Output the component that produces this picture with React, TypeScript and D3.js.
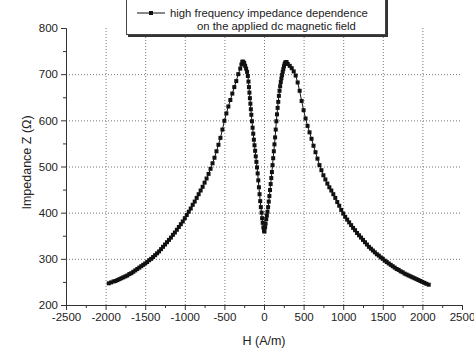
import React, { useRef, useEffect } from 'react'
import * as d3 from 'd3'

// H (A/m) and Z (ohm), in sweep order
const fieldH = [
  -1960, -1930, -1900, -1875, -1850, -1825, -1800, -1775, -1750, -1725,
  -1700, -1675, -1650, -1625, -1600, -1575, -1550, -1525, -1500, -1475,
  -1450, -1425, -1400, -1375, -1350, -1325, -1300, -1275, -1250, -1225,
  -1200, -1175, -1150, -1125, -1100, -1075, -1050, -1025, -1000, -975,
  -950, -925, -900, -875, -850, -825, -800, -775, -750,
  -725, -700, -675, -650, -625, -600, -575, -550, -525, -500,
  -475, -450, -425, -400, -375, -350, -325, -300, -285, -274,
  -262, -250, -238, -226, -214, -204, -196, -190, -184, -178,
  -172, -166, -160, -152, -144, -136, -128, -120, -112, -104,
  -96, -88, -80, -72, -64, -56, -48, -40, -30, -24,
  -16, -8, 0, 6,
  14, 20, 28, 36, 44, 52, 60, 68, 76, 84,
  92, 100, 108, 116, 124, 132, 140, 148, 156, 164,
  172, 180, 188, 196, 204, 212, 220, 228, 236, 244,
  252, 260, 268, 276,
  286, 300, 325, 350, 375, 400, 425, 450, 475, 500,
  525, 550, 575, 600, 625, 650, 675, 700, 725, 750,
  775, 800, 825, 850, 875, 900, 925, 950, 975, 1000,
  1025, 1050, 1075, 1100, 1125, 1150, 1175, 1200, 1225, 1250,
  1275, 1300, 1325, 1350, 1375, 1400, 1425, 1450, 1475, 1500,
  1525, 1550, 1575, 1600, 1625, 1650, 1675, 1700, 1725, 1750,
  1775, 1800, 1825, 1850, 1875, 1900, 1925, 1950, 1975, 2000,
  2025, 2050, 2080,
]

const impedanceZ = [
  247, 249, 251, 252, 254, 256, 258, 260, 262, 264,
  267, 269, 272, 275, 278, 281, 284, 287, 290, 293,
  297, 300, 304, 308, 312, 316, 321, 326, 331, 336,
  341, 346, 352, 357, 363, 369, 375, 381, 388, 395,
  402, 409, 417, 424, 432, 440, 448, 456, 465,
  474, 484, 495, 507, 519, 533, 547, 562, 580, 599,
  615, 630, 644, 658, 672, 685, 700, 712, 721, 727,
  727, 724, 718, 712, 705, 696, 684, 672, 660, 648,
  636, 624, 612, 598, 584, 571, 558, 546, 534, 522,
  510, 498, 485, 470, 455, 440, 425, 412, 400, 388,
  378, 368, 361, 359,
  368, 376, 386, 394, 402, 412, 424, 436, 449, 462,
  475, 488, 503, 518, 533, 548, 563, 580, 598, 613,
  627, 640, 653, 664, 674, 683, 691, 698, 705, 711,
  717, 722, 725, 726,
  726, 722, 718, 713, 706, 697, 682, 664, 642, 622,
  604, 588, 574, 560, 545, 531, 517, 503, 492, 481,
  472, 463, 455, 448, 440, 432, 423, 415, 406, 398,
  391, 385, 379, 373, 367, 362, 356, 351, 346, 341,
  336, 331, 326, 322, 318, 314, 310, 307, 303, 300,
  296, 293, 290, 287, 284, 281, 278, 276, 273, 271,
  268, 266, 264, 262, 260, 258, 256, 254, 252, 250,
  248, 246, 244,
]

const xTicks = [-2500, -2000, -1500, -1000, -500, 0, 500, 1000, 1500, 2000, 2500]
const xMinorTicks = [-2250, -1750, -1250, -750, -250, 250, 750, 1250, 1750, 2250]
const yTicks = [200, 300, 400, 500, 600, 700, 800]
const yMinorTicks = [250, 350, 450, 550, 650, 750]
const legendLines = ['high frequency impedance dependence', 'on the applied dc magnetic field']

const font = '"Liberation Sans", Arial, sans-serif'

export default function App() {
  const svgRef = useRef<SVGSVGElement>(null)

  useEffect(() => {
    const svg = d3.select(svgRef.current)
    svg.selectAll('*').remove()

    const x = d3.scaleLinear().domain([-2500, 2500]).range([66, 462])
    const y = d3.scaleLinear().domain([200, 800]).range([305, 28])

    // dotted grid
    const grid = svg.append('g')
      .attr('stroke', '#777')
      .attr('stroke-width', 1)
      .attr('stroke-dasharray', '1,2')
    grid.selectAll('.vgrid')
      .data(xTicks.slice(1, -1))
      .join('line')
      .attr('x1', d => x(d) + 0.5).attr('x2', d => x(d) + 0.5)
      .attr('y1', y(800)).attr('y2', y(200))
    grid.selectAll('.hgrid')
      .data(yTicks.slice(1, -1))
      .join('line')
      .attr('y1', d => y(d) + 0.5).attr('y2', d => y(d) + 0.5)
      .attr('x1', x(-2500)).attr('x2', x(2500))

    // axes
    const plain = (d: d3.NumberValue) => String(d)
    const xAxis = d3.axisBottom(x).tickValues(xTicks).tickSize(5).tickPadding(3).tickFormat(plain)
    const xMinor = d3.axisBottom(x).tickValues(xMinorTicks).tickSize(3).tickFormat(() => '')
    const yAxis = d3.axisLeft(y).tickValues(yTicks).tickSize(5).tickPadding(3).tickFormat(plain)
    const yMinor = d3.axisLeft(y).tickValues(yMinorTicks).tickSize(3).tickFormat(() => '')

    const gx = svg.append('g').attr('transform', `translate(0,${y(200)})`).call(xAxis)
    svg.append('g').attr('transform', `translate(0,${y(200)})`).call(xMinor).select('.domain').remove()
    const gy = svg.append('g').attr('transform', `translate(${x(-2500)},0)`).call(yAxis)
    svg.append('g').attr('transform', `translate(${x(-2500)},0)`).call(yMinor).select('.domain').remove()

    svg.selectAll('.domain').attr('stroke', '#333')
    svg.selectAll('.tick line').attr('stroke', '#333')
    for (const g of [gx, gy]) {
      g.selectAll('text')
        .attr('font-family', font)
        .attr('font-size', 11.5)
        .attr('fill', '#222')
    }

    // axis titles
    svg.append('text')
      .attr('x', x(0))
      .attr('y', 345)
      .attr('text-anchor', 'middle')
      .attr('font-family', font)
      .attr('font-size', 12.5)
      .attr('fill', '#222')
      .text('H (A/m)')
    svg.append('text')
      .attr('transform', `translate(31,${(y(200) + y(800)) / 2 - 4}) rotate(-90)`)
      .attr('text-anchor', 'middle')
      .attr('font-family', font)
      .attr('font-size', 12.5)
      .attr('fill', '#222')
      .text('Impedance Z (Ω)')

    // data
    const points = fieldH.map((h, i) => [h, impedanceZ[i]] as [number, number])
    const line = d3.line<[number, number]>()
      .x(d => x(d[0]))
      .y(d => y(d[1]))
    svg.append('path')
      .attr('d', line(points))
      .attr('fill', 'none')
      .attr('stroke', '#111')
      .attr('stroke-width', 1)
    svg.append('g')
      .selectAll('rect')
      .data(points)
      .join('rect')
      .attr('x', d => x(d[0]) - 2)
      .attr('y', d => y(d[1]) - 2)
      .attr('width', 4)
      .attr('height', 4)
      .attr('fill', '#111')

    // legend
    const legend = svg.append('g')
    legend.append('rect')
      .attr('x', 128).attr('y', -1)
      .attr('width', 260).attr('height', 38)
      .attr('fill', '#333')
    legend.append('rect')
      .attr('x', 126.5).attr('y', -2.5)
      .attr('width', 259).attr('height', 37)
      .attr('fill', '#fff')
      .attr('stroke', '#444')
    legend.append('line')
      .attr('x1', 137).attr('x2', 165)
      .attr('y1', 13).attr('y2', 13)
      .attr('stroke', '#111')
    legend.append('rect')
      .attr('x', 149).attr('y', 11)
      .attr('width', 4).attr('height', 4)
      .attr('fill', '#111')
    legend.selectAll('.lg')
      .data(legendLines)
      .join('text')
      .attr('x', (d, i) => (i === 0 ? 170 : 197))
      .attr('y', (d, i) => 17 + i * 13)
      .attr('font-family', font)
      .attr('font-size', 11.3)
      .attr('fill', '#222')
      .text(d => d)
  }, [])

  return (
    <svg
      ref={svgRef}
      width={474}
      height={363}
      style={{ position: 'absolute', left: 0, top: 0, background: '#fff' }}
    />
  )
}
